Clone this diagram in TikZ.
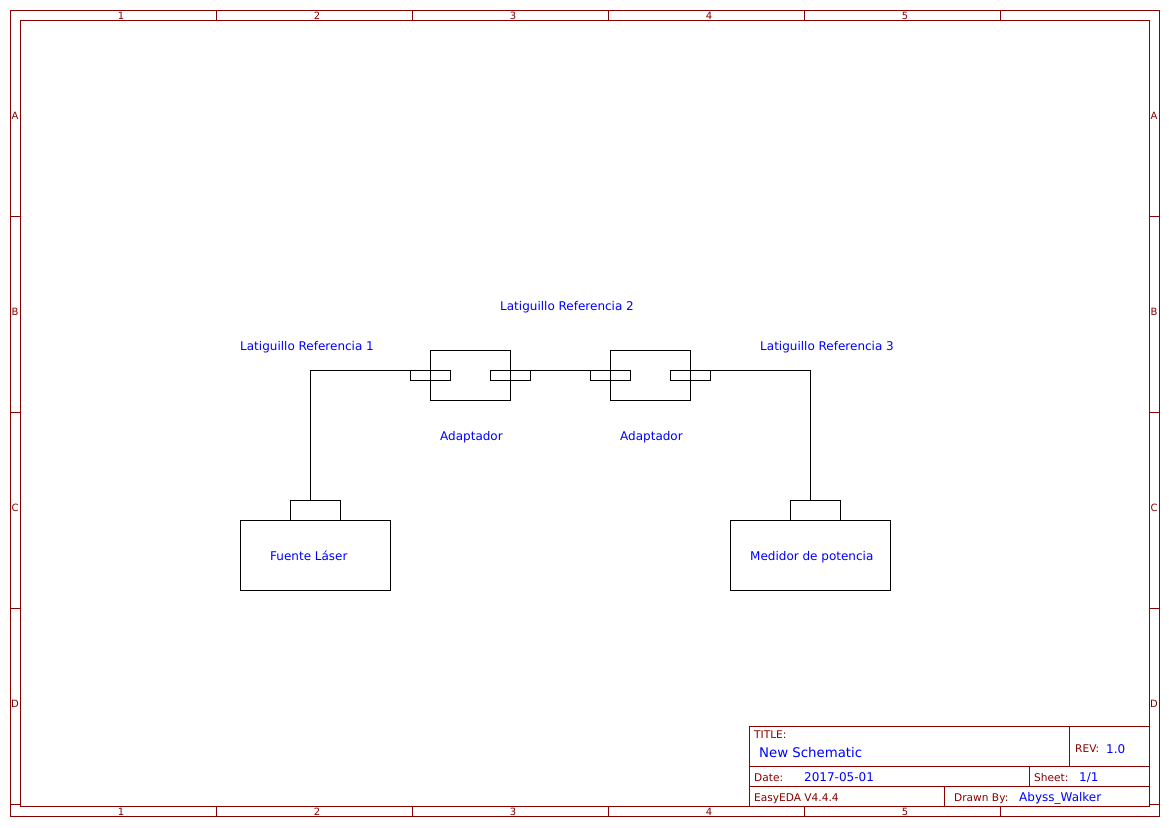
\documentclass[tikz,border=0pt]{standalone}
\usepackage{fontspec}
\setmainfont{DejaVu Sans}
\definecolor{framered}{HTML}{880000}
\definecolor{textblue}{HTML}{0000FF}
\tikzset{
  box/.style={draw=black,line width=1pt,inner sep=0pt,outer sep=0pt},
  frameline/.style={draw=framered,line width=1pt},
  fibre/.style={draw=black,line width=1pt},
  tag/.style={text=textblue,inner sep=0pt,anchor=base west,font=\fontsize{12}{14}\selectfont},
  small/.style={text=framered,inner sep=0pt,font=\fontsize{10}{12}\selectfont},
  info/.style={text=framered,inner sep=0pt,anchor=base west,font=\fontsize{10.6}{12}\selectfont}
}
\begin{document}
\begin{tikzpicture}[x=1pt,y=-1pt]
\useasboundingbox (0,0) rectangle (1169,827);
\begin{scope}[yshift=-0.5pt]
% sheet frame
\draw[frameline] (10,10) rectangle (1159,816);
\draw[frameline] (20,20) rectangle (1149,806);
\foreach \x/\n in {216/1,412/2,608/3,804/4,1000/5} {
  \draw[frameline] (\x,10) -- (\x,20);
  \draw[frameline] (\x,806) -- (\x,816);
  \node[small] (top\n) at (\x-95,15) {\n};
  \node[small] (bot\n) at (\x-95,811) {\n};
}
\foreach \y/\n in {216/A,412/B,608/C,804/D} {
  \draw[frameline] (10,\y) -- (20,\y);
  \draw[frameline] (1149,\y) -- (1159,\y);
  \node[small] (left\n) at (15,\y-101) {\n};
  \node[small] (right\n) at (1154,\y-101) {\n};
}

% title block
\draw[frameline] (749,726) rectangle (1149,806);
\draw[frameline] (749,766) -- (1149,766);
\draw[frameline] (749,786) -- (1149,786);
\draw[frameline] (1069,726) -- (1069,766);
\draw[frameline] (1029,766) -- (1029,786);
\draw[frameline] (944,786) -- (944,806);
\node[info] (titlekey) at (754,738) {TITLE:};
\node[tag,font=\fontsize{13.3}{16}\selectfont] (titleval) at (759,756.5) {New Schematic};
\node[info] (revkey) at (1075,752) {REV:};
\node[tag] (revval) at (1106,753) {1.0};
\node[info] (datekey) at (754,781) {Date:};
\node[tag] (dateval) at (804,781) {2017-05-01};
\node[info] (sheetkey) at (1034,781) {Sheet:};
\node[tag] (sheetval) at (1079,781) {1/1};
\node[info] (versionkey) at (754,801) {EasyEDA V4.4.4};
\node[info] (drawnkey) at (954,801) {Drawn By:};
\node[tag] (drawnval) at (1019,801) {Abyss\_Walker};

% source and meter
\node[box,minimum width=150pt,minimum height=70pt] (laser) at (315,555) {};
\node[box,minimum width=50pt,minimum height=20pt] (laserport) at (315,510) {};
\node[box,minimum width=160pt,minimum height=70pt] (meter) at (810,555) {};
\node[box,minimum width=50pt,minimum height=20pt] (meterport) at (815,510) {};
\node[tag] (laserlbl) at (270,560) {Fuente Láser};
\node[tag] (meterlbl) at (750,560) {Medidor de potencia};

% adapters
\node[box,minimum width=80pt,minimum height=50pt] (adapA) at (470,375) {};
\node[box,minimum width=80pt,minimum height=50pt] (adapB) at (650,375) {};
\node[box,minimum width=40pt,minimum height=10pt] (plugA) at (430,375) {};
\node[box,minimum width=40pt,minimum height=10pt] (plugB) at (510,375) {};
\node[box,minimum width=40pt,minimum height=10pt] (plugC) at (610,375) {};
\node[box,minimum width=40pt,minimum height=10pt] (plugD) at (690,375) {};
\node[tag] (adapAlbl) at (440,440) {Adaptador};
\node[tag] (adapBlbl) at (620,440) {Adaptador};

% fibres
\coordinate (fibreA) at (310,500);
\coordinate (fibreB) at (810,500);
\draw[fibre] (fibreA) |- (plugA.north west);
\draw[fibre] (plugB.north east) -- (plugC.north west);
\draw[fibre] (plugD.north east) -| (fibreB);
\node[tag] (refA) at (240,350) {Latiguillo Referencia 1};
\node[tag] (refB) at (500,310) {Latiguillo Referencia 2};
\node[tag] (refC) at (760,350) {Latiguillo Referencia 3};
\end{scope}
\end{tikzpicture}
\end{document}
